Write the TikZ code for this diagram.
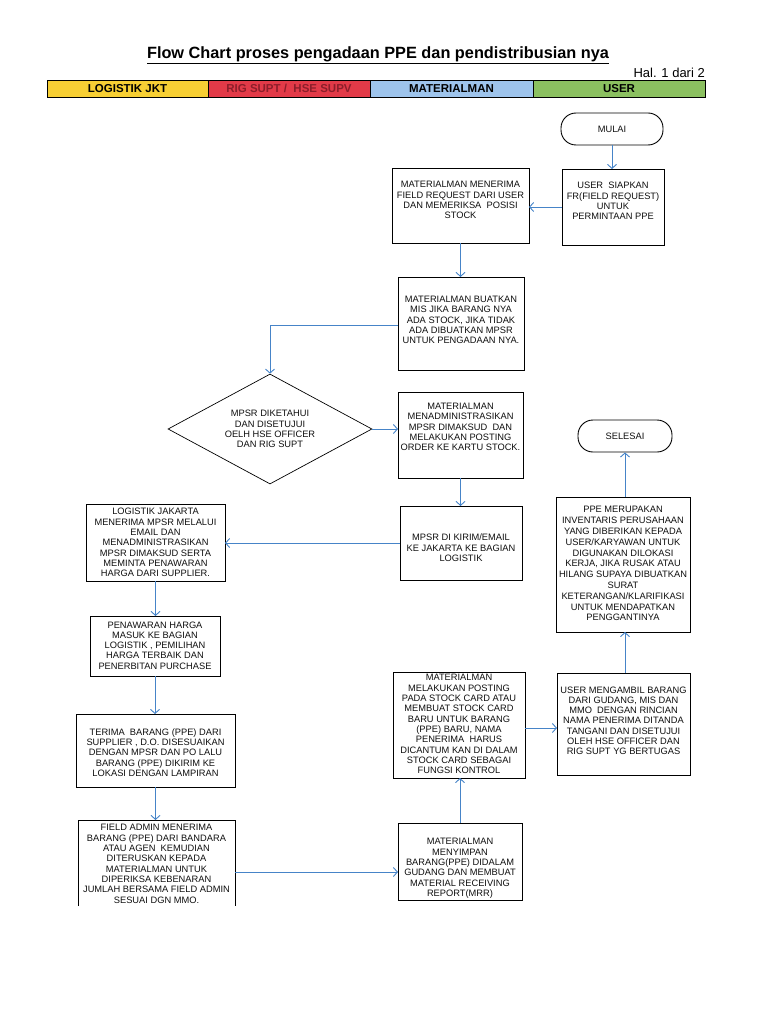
\documentclass[tikz,border=0pt]{standalone}
\usepackage{fontspec}
\setmainfont{Liberation Sans}
\usetikzlibrary{arrows.meta,shapes.geometric}
\definecolor{connblue}{RGB}{70,132,200}
\definecolor{hyellow}{RGB}{247,207,52}
\definecolor{hred}{RGB}{226,58,72}
\definecolor{hredtext}{RGB}{140,30,42}
\definecolor{hblue}{RGB}{158,196,236}
\definecolor{hgreen}{RGB}{139,192,96}
\definecolor{ink}{RGB}{15,15,15}
\newcommand\bxt[5]{\parbox[c][#2pt][t]{#1pt}{\centering\fontsize{9.3}{#4}\selectfont\vspace*{#3pt}#5\par}}
\tikzset{
 box/.style={draw=black, line width=0.9pt, inner sep=0pt, outer sep=0pt, text=ink},
 term/.style={draw=black, line width=0.9pt, rounded corners=15pt, inner sep=0pt, text=ink, font=\fontsize{9.3}{10.3}\selectfont},
 conn/.style={draw=connblue, line width=0.9pt, -{Straight Barb[length=4pt,width=9pt]}},
 hdr/.style={draw=black, line width=0.9pt, inner sep=0pt, minimum height=17pt, font=\fontsize{11.5}{12}\selectfont\bfseries},
}
\begin{document}
\begin{tikzpicture}[x=1pt,y=-1pt]
\useasboundingbox (0,0) rectangle (768,1024);
\fill[white] (0,0) rectangle (768,1024);
% title
\node[inner sep=0pt] (title) at (378,55) {\fontsize{16.3}{19}\selectfont\bfseries\underline{Flow Chart proses pengadaan PPE dan pendistribusian nya}};
\node[anchor=east, inner sep=0pt] (hal) at (705,73) {\fontsize{13}{15}\selectfont Hal. 1 dari 2};
% header
\node[hdr, fill=hyellow, minimum width=161pt] (h1) at (127.5,88.5) {LOGISTIK JKT};
\node[hdr, fill=hred, text=hredtext, minimum width=162pt] (h2) at (289,88.5) {RIG SUPT / \ HSE SUPV};
\node[hdr, fill=hblue, minimum width=163pt] (h3) at (451.5,88.5) {MATERIALMAN};
\node[hdr, fill=hgreen, minimum width=172pt] (h4) at (619,88.5) {USER};
% nodes
\node[term, minimum width=102pt, minimum height=32pt] (mulai) at (612,129) {MULAI};
\node[term, minimum width=94pt, minimum height=32pt] (selesai) at (625,436) {SELESAI};
\node[box] (user) at (613,207) {\bxt{102}{76}{13.5}{10.3}{USER \ SIAPKAN\\FR(FIELD REQUEST)\\UNTUK\\PERMINTAAN PPE}};
\node[box] (terima) at (460.5,205.5) {\bxt{137}{75}{13.5}{10.3}{MATERIALMAN MENERIMA\\FIELD REQUEST DARI USER\\DAN MEMERIKSA \ POSISI\\STOCK}};
\node[box] (buat) at (461,323.5) {\bxt{126}{93}{19}{10.3}{MATERIALMAN BUATKAN\\MIS JIKA BARANG NYA\\ADA STOCK, JIKA TIDAK\\ADA DIBUATKAN MPSR\\UNTUK PENGADAAN NYA.}};
\node[diamond, aspect=1.85, draw=black, line width=0.7pt, minimum width=204pt, minimum height=110pt, inner sep=0pt, align=center, text=ink, font=\fontsize{9.3}{10.3}\selectfont] (dia) at (270,429) {MPSR DIKETAHUI\\DAN DISETUJUI\\OELH HSE OFFICER\\DAN RIG SUPT};
\node[box] (admin) at (460.5,435) {\bxt{125}{86}{11}{10.3}{MATERIALMAN\\MENADMINISTRASIKAN\\MPSR DIMAKSUD \ DAN\\MELAKUKAN POSTING\\ORDER KE KARTU STOCK.}};
\node[box] (kirim) at (461,543) {\bxt{122}{74}{28}{10.3}{MPSR DI KIRIM/EMAIL\\KE JAKARTA KE BAGIAN\\LOGISTIK}};
\node[box] (log) at (155.5,542.5) {\bxt{139}{77}{4.5}{10.3}{LOGISTIK JAKARTA\\MENERIMA MPSR MELALUI\\EMAIL DAN\\MENADMINISTRASIKAN\\MPSR DIMAKSUD SERTA\\MEMINTA PENAWARAN\\HARGA DARI SUPPLIER.}};
\node[box] (pen) at (155,646) {\bxt{130}{60}{5.5}{10.3}{PENAWARAN HARGA\\MASUK KE BAGIAN\\LOGISTIK , PEMILIHAN\\HARGA TERBAIK DAN\\PENERBITAN PURCHASE}};
\node[box] (ter) at (155.5,750.5) {\bxt{159}{73}{14.5}{10.3}{TERIMA \ BARANG (PPE) DARI\\SUPPLIER , D.O. DISESUAIKAN\\DENGAN MPSR DAN PO LALU\\BARANG (PPE) DIKIRIM KE\\LOKASI DENGAN LAMPIRAN}};
\node[box, draw=none] (field) at (156.5,863) {\bxt{157}{86}{4.5}{10.3}{FIELD ADMIN MENERIMA\\BARANG (PPE) DARI BANDARA\\ATAU AGEN \ KEMUDIAN\\DITERUSKAN KEPADA\\MATERIALMAN UNTUK\\DIPERIKSA KEBENARAN\\JUMLAH BERSAMA FIELD ADMIN\\SESUAI DGN MMO.}};
\draw[line width=0.9pt] (field.south west) -- (field.north west) -- (field.north east) -- (field.south east);
\node[box] (mrr) at (460,861.5) {\bxt{124}{77}{15.5}{10.3}{MATERIALMAN\\MENYIMPAN\\BARANG(PPE) DIDALAM\\GUDANG DAN MEMBUAT\\MATERIAL RECEIVING\\REPORT(MRR)}};
\node[box] (posting) at (459,725) {\bxt{132}{106}{2.5}{10.3}{MATERIALMAN\\MELAKUKAN POSTING\\PADA STOCK CARD ATAU\\MEMBUAT STOCK CARD\\BARU UNTUK BARANG\\(PPE) BARU, NAMA\\PENERIMA \ HARUS\\DICANTUM KAN DI DALAM\\STOCK CARD SEBAGAI\\FUNGSI KONTROL}};
\node[box] (um) at (623.5,724) {\bxt{133}{102}{13.5}{10.3}{USER MENGAMBIL BARANG\\DARI GUDANG, MIS DAN\\MMO \ DENGAN RINCIAN\\NAMA PENERIMA DITANDA\\TANGANI DAN DISETUJUI\\OLEH HSE OFFICER DAN\\RIG SUPT YG BERTUGAS}};
\node[box] (ppe) at (623,564.5) {\bxt{134}{135}{9.5}{10.8}{PPE MERUPAKAN\\INVENTARIS PERUSAHAAN\\YANG DIBERIKAN KEPADA\\USER/KARYAWAN UNTUK\\DIGUNAKAN DILOKASI\\KERJA, JIKA RUSAK ATAU\\HILANG SUPAYA DIBUATKAN\\SURAT\\KETERANGAN/KLARIFIKASI\\UNTUK MENDAPATKAN\\PENGGANTINYA}};
% connectors
\draw[conn] (mulai.south) -- (mulai.south |- user.north);
\draw[conn] (user.west) -- (user.west -| terima.east);
\draw[conn] (terima.south) -- (terima.south |- buat.north);
\draw[conn] ([yshift=-1.5pt]buat.west) -| (dia.north);
\draw[conn] (dia.east) -- (dia.east -| admin.west);
\draw[conn] (admin.south) -- (admin.south |- kirim.north);
\draw[conn] (kirim.west) -- (kirim.west -| log.east);
\draw[conn] (log.south) -- (log.south |- pen.north);
\draw[conn] (pen.south) -- (pen.south |- ter.north);
\draw[conn] (ter.south) -- (ter.south |- field.north);
\draw[conn] ([yshift=-9pt]field.east) -- ([yshift=-9pt]field.east -| mrr.west);
\draw[conn] (mrr.north) -- (mrr.north |- posting.south);
\draw[conn] ([yshift=-3pt]posting.east) -- ([yshift=-3pt]posting.east -| um.west);
\draw[conn] ([xshift=1.5pt]um.north) -- ([xshift=1.5pt]um.north |- ppe.south);
\draw[conn] ([xshift=2pt]ppe.north) -- ([xshift=2pt]ppe.north |- selesai.south);
\end{tikzpicture}
\end{document}
